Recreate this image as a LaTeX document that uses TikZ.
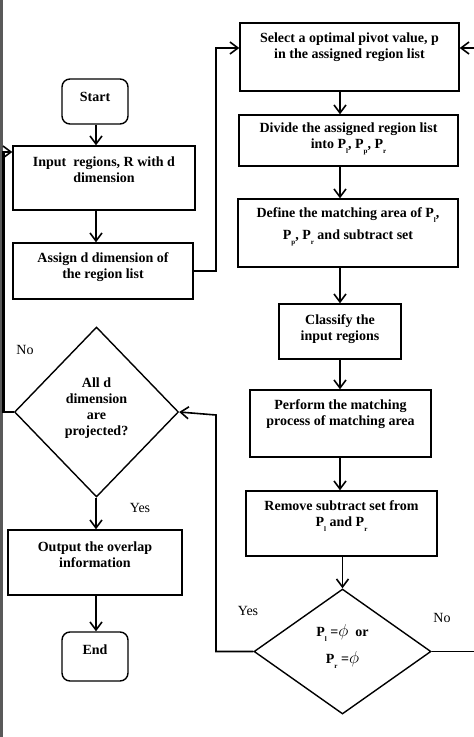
\documentclass[tikz,border=0pt]{standalone}
\usepackage{fontspec}
\setmainfont{Liberation Serif}
\usetikzlibrary{arrows.meta,shapes.geometric,calc}
\newcommand{\sbs}[1]{\raisebox{-5pt}{\fontsize{7}{7}\selectfont #1}}
\newcommand{\phisym}{{\fontsize{17}{17}\selectfont$\phi$}}
\tikzset{
  box/.style={draw, line width=1.4pt, inner sep=0pt, rectangle},
  rbox/.style={box, rounded corners=8pt},
  dec/.style={draw, diamond, line width=1.4pt, inner sep=0pt, shape aspect=1},
  txt/.style={font=\fontsize{14}{16}\selectfont\bfseries, align=center, inner sep=0pt},
  lab/.style={font=\fontsize{14}{16}\selectfont, inner sep=0pt},
  arr/.style={line width=1.6pt, -{Straight Barb[length=8pt,width=12pt,line width=1.6pt]}},
  ln/.style={line width=1.6pt}
}
\begin{document}
\begin{tikzpicture}[x=1pt,y=-1pt]
\useasboundingbox (0,0) rectangle (474,737);
\fill[black!65] (0,0) rectangle (2.5,737);
% boxes
\node[rbox, minimum width=66, minimum height=45] (start) at (95,101.5) {};
\node[txt] (start-t) at (95,97) {Start};
\node[box, minimum width=182, minimum height=64] (input) at (104,178) {};
\node[txt] (input-t) at (104,170) {Input\ \ regions, R with d\\dimension};
\node[box, minimum width=180, minimum height=56] (assign) at (103,271) {};
\node[txt] (assign-t) at (103,267) {Assign d dimension of\\the region list};
\node[dec, minimum width=164, minimum height=170] (dec1) at (96.5,412) {};
\node[txt] (dec1-t) at (96.5,408) {All d\\dimension\\are\\projected?};
\node[box, minimum width=174, minimum height=65] (output) at (95,562.5) {};
\node[txt] (output-t) at (95,555) {Output the overlap\\information};
\node[rbox, minimum width=66, minimum height=49] (end) at (95,656.5) {};
\node[txt] (end-t) at (95,650) {End};

\node[box, minimum width=219, minimum height=68] (select) at (349.5,57) {};
\node[txt] (select-t) at (349.5,47) {Select a optimal pivot value, p\\in the assigned region list};
\node[box, minimum width=219, minimum height=51] (divide) at (348.5,140.5) {};
\node[txt] (divide-t) at (348.5,139) {Divide the assigned region list\\into P\sbs{l}, P\sbs{p}, P\sbs{r}};
\node[box, minimum width=220, minimum height=68] (define) at (348,233) {};
\node[txt, font=\fontsize{14}{22}\selectfont\bfseries] (define-t) at (348,227) {Define the matching area of P\sbs{l},\\P\sbs{p}, P\sbs{r} and subtract set};
\node[box, minimum width=122, minimum height=55] (classify) at (340,331.5) {};
\node[txt] (classify-t) at (340,329) {Classify the\\input regions};
\node[box, minimum width=181, minimum height=67] (perform) at (340.5,423.5) {};
\node[txt] (perform-t) at (340.5,414) {Perform the matching\\process of matching area};
\node[box, minimum width=191, minimum height=65] (remove) at (341.5,523.5) {};
\node[txt] (remove-t) at (341.5,516) {Remove subtract set from\\P\sbs{l} and P\sbs{r}};
\node[dec, minimum width=177, minimum height=125] (dec2) at (342.5,651.5) {};
\node[txt, font=\fontsize{14}{27}\selectfont\bfseries] (dec2-t) at (342.5,646) {P\sbs{l} =\phisym\ \ or\\P\sbs{r} =\phisym};

% labels
\node[lab] (no1) at (25,350) {No};
\node[lab] (yes1) at (140,508) {Yes};
\node[lab] (yes2) at (248,611) {Yes};
\node[lab] (no2) at (442,618) {No};

% coordinates
\coordinate (lx) at (3.5,0);
\coordinate (mx) at (216,0);
\coordinate (rx) at (474,0);
\coordinate (cx) at (340,0);
\coordinate (ax) at (96,0);

% left column arrows
\draw[arr] (start.south -| ax) -- (input.north -| ax);
\draw[arr] (input.south -| ax) -- (assign.north -| ax);
\draw[arr] (dec1.south -| ax) -- (output.north -| ax);
\draw[arr] (output.south -| ax) -- (end.north -| ax);
% right column arrows
\draw[arr] (select.south -| cx) -- (divide.north -| cx);
\draw[arr] (divide.south -| cx) -- (define.north -| cx);
\draw[arr] (define.south -| cx) -- (classify.north -| cx);
\draw[arr] (classify.south -| cx) -- (perform.north -| cx);
\draw[arr] (perform.south -| cx) -- (remove.north -| cx);
\draw[arr] (remove.south -| dec2) -- (dec2.north);
% loops
\coordinate (inrow) at (0,152);
\coordinate (selrow) at (0,48);
\coordinate (d1row) at (0,415);
\draw[arr, line width=2.4pt] (dec1.west) -- (dec1.west -| lx) -- (inrow -| lx) -- (inrow -| input.west);
\draw[arr] (assign.east) -- (assign.east -| mx) -- (selrow -| mx) -- (selrow -| select.west);
\draw[arr] (dec2.west) -- (dec2.west -| mx) -- (d1row -| mx) -- (dec1.east);
\draw[line width=1pt] (dec2.east) -- (dec2.east -| rx);
\draw[arr] (selrow -| rx) -- (selrow -| select.east);
\end{tikzpicture}
\end{document}
